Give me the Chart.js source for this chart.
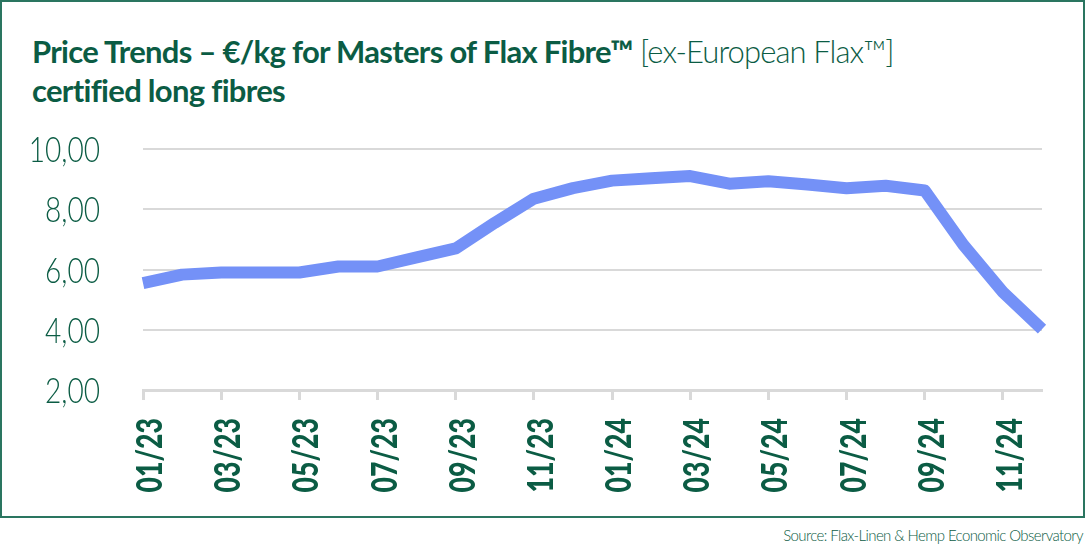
<!DOCTYPE html>
<html>
<head>
<meta charset="utf-8">
<script src="https://cdn.jsdelivr.net/npm/chart.js@4.4.1/dist/chart.umd.min.js"></script>
<style>
  html, body { margin: 0; padding: 0; background: #ffffff; }
  #wrap { position: relative; width: 1087px; height: 544px; overflow: hidden; background: #fff; }
  #frame { position: absolute; left: 0; top: 0; width: 1085px; height: 518px; box-sizing: border-box; border: 2px solid #2a7560; }
  #title { position: absolute; left: 32px; top: 32px; font-family: Lato, "Open Sans", sans-serif; font-size: 31px; line-height: 39px; color: #0b5c44; letter-spacing: -0.7px; white-space: nowrap; }
  #title b { font-weight: 700; }
  #title span.light { font-weight: 300; letter-spacing: -0.9px; }
  #source { position: absolute; right: 4px; top: 526px; font-family: Lato, sans-serif; font-weight: 300; font-size: 15px; color: #0b5c44; letter-spacing: -0.6px; white-space: nowrap; }
  #cv { position: absolute; left: 0; top: 120px; }
</style>
</head>
<body>
<div id="wrap">
  <div id="frame"></div>
  <div id="title"><b>Price Trends – €/kg for Masters of Flax Fibre™</b> <span class="light">[ex-European Flax™]</span><br><b>certified long fibres</b></div>
  <canvas id="cv" width="1087" height="395"></canvas>
  <div id="source">Source: Flax-Linen &amp; Hemp Economic Observatory</div>
</div>
<script>
const months = ["01/23","02/23","03/23","04/23","05/23","06/23","07/23","08/23","09/23","10/23","11/23","12/23",
                "01/24","02/24","03/24","04/24","05/24","06/24","07/24","08/24","09/24","10/24","11/24","12/24"];
const prices = [5.55, 5.83, 5.90, 5.90, 5.90, 6.10, 6.10, 6.40, 6.70, 7.55, 8.35, 8.70,
                8.95, 9.03, 9.10, 8.85, 8.93, 8.82, 8.70, 8.78, 8.62, 6.80, 5.25, 4.02];
const yTicks = [2, 4, 6, 8, 10];

const green = '#0b5c44';
const grid = '#d9d9d9';

const labelPlugin = {
  id: 'condensedLabels',
  afterDraw(chart) {
    const ctx = chart.ctx;
    const xs = chart.scales.x, ys = chart.scales.y;
    ctx.save();
    ctx.fillStyle = green;
    ctx.font = '300 36px Lato';
    ctx.textAlign = 'right';
    ctx.textBaseline = 'alphabetic';
    yTicks.forEach(v => {
      const y = ys.getPixelForValue(v);
      ctx.save();
      ctx.translate(100, y + 13);
      ctx.scale(0.78, 1);
      ctx.fillText(v.toFixed(2).replace('.', ','), 0, 0);
      ctx.restore();
    });
    ctx.font = '900 36px Lato';
    months.forEach((m, i) => {
      if (i % 2) return;
      const x = xs.getPixelForValue(i);
      ctx.save();
      ctx.translate(x + 19, xs.top + 28);
      ctx.rotate(-Math.PI / 2);
      ctx.scale(0.74, 1);
      ctx.fillText(m, 0, 0);
      ctx.restore();
    });
    ctx.restore();
  }
};

new Chart(document.getElementById('cv'), {
  type: 'line',
  data: {
    labels: months,
    datasets: [{
      data: prices,
      borderColor: '#7491f7',
      borderWidth: 12,
      pointRadius: 0,
      tension: 0,
      fill: false,
      borderCapStyle: 'butt',
      borderJoinStyle: 'round'
    }]
  },
  plugins: [labelPlugin],
  options: {
    responsive: false,
    animation: false,
    devicePixelRatio: 1,
    layout: { padding: { top: 29, right: 45, left: 0, bottom: 0 } },
    plugins: { legend: { display: false }, tooltip: { enabled: false }, title: { display: false } },
    scales: {
      x: {
        offset: false,
        grid: {
          drawOnChartArea: false,
          drawTicks: true,
          tickLength: 10,
          tickWidth: 3,
          tickColor: (ctx) => (ctx.index % 2 === 0 ? grid : 'rgba(0,0,0,0)')
        },
        border: { display: true, color: grid, width: 3 },
        ticks: { display: false, autoSkip: false },
        afterFit: (s) => { s.height = 125; s.paddingLeft = 0; s.paddingRight = 0; }
      },
      y: {
        min: 2,
        max: 10,
        afterBuildTicks: (s) => { s.ticks = yTicks.map(v => ({ value: v })); },
        grid: { color: grid, lineWidth: 2, drawTicks: false },
        border: { display: false },
        ticks: { display: false },
        afterFit: (s) => { s.width = 143; s.paddingTop = 0; s.paddingBottom = 0; }
      }
    }
  }
});
</script>
</body>
</html>
